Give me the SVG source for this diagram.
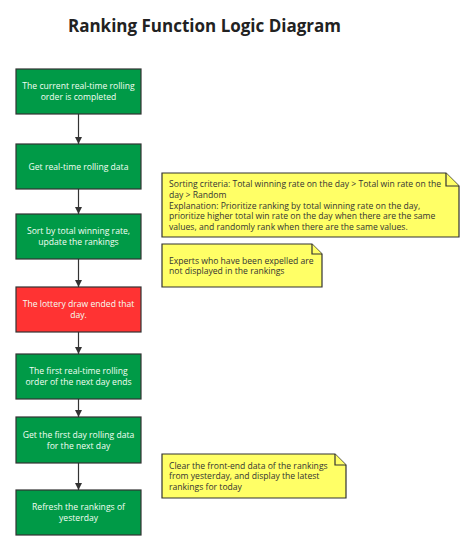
<svg xmlns="http://www.w3.org/2000/svg" width="474" height="551" viewBox="0 0 474 551">
<defs>
<marker id="arr" viewBox="0 0 10 10" refX="10" refY="5" markerWidth="7" markerHeight="7" orient="auto" markerUnits="userSpaceOnUse">
<path d="M0,0 L10,5 L0,10 z" fill="#333"/>
</marker>
<style>
.box{stroke:#333;stroke-width:1.2}
.g{fill:#009a47}
.r{fill:#ff3333}
.note{fill:#ffff66;stroke:#333;stroke-width:1.2}
.bt{font-family:"Open Sans","Noto Sans",sans-serif;font-size:8.6px;fill:#f4fff4;text-anchor:middle}
.nt{font-family:"Open Sans","Noto Sans",sans-serif;font-size:8.6px;fill:#333}
.title{font-family:"Open Sans","Noto Sans",sans-serif;font-size:17px;font-weight:bold;fill:#222}
.c{stroke:#333;stroke-width:1.2;fill:none;marker-end:url(#arr)}
</style>
</defs>
<rect width="474" height="551" fill="#fff"/>
<text class="title" x="204.5" y="32" text-anchor="middle">Ranking Function Logic Diagram</text>
<g id="connectors">
<line class="c" x1="78.5" y1="114" x2="78.5" y2="144"/>
<line class="c" x1="78.5" y1="189" x2="78.5" y2="214"/>
<line class="c" x1="78.5" y1="259" x2="78.5" y2="287"/>
<line class="c" x1="78.5" y1="332" x2="78.5" y2="354"/>
<line class="c" x1="78.5" y1="399" x2="78.5" y2="417"/>
<line class="c" x1="78.5" y1="463" x2="78.5" y2="490"/>
</g>
<g id="n1"><rect class="box g" x="16" y="69" width="125" height="45"/>
<text class="bt" x="78.5" y="89">The current real-time rolling</text>
<text class="bt" x="78.5" y="100">order is completed</text></g>
<g id="n2"><rect class="box g" x="16" y="144" width="125" height="45"/>
<text class="bt" x="78.5" y="169.5">Get real-time rolling data</text></g>
<g id="n3"><rect class="box g" x="16" y="214" width="125" height="45"/>
<text class="bt" x="78.5" y="234">Sort by total winning rate,</text>
<text class="bt" x="78.5" y="245">update the rankings</text></g>
<g id="n4"><rect class="box r" x="16" y="287" width="125" height="45"/>
<text class="bt" x="78.5" y="307">The lottery draw ended that</text>
<text class="bt" x="78.5" y="318">day.</text></g>
<g id="n5"><rect class="box g" x="16" y="354" width="125" height="45"/>
<text class="bt" x="78.5" y="374">The first real-time rolling</text>
<text class="bt" x="78.5" y="385">order of the next day ends</text></g>
<g id="n6"><rect class="box g" x="16" y="417" width="125" height="46"/>
<text class="bt" x="78.5" y="437.5">Get the first day rolling data</text>
<text class="bt" x="78.5" y="448.5">for the next day</text></g>
<g id="n7"><rect class="box g" x="16" y="490" width="125" height="45"/>
<text class="bt" x="78.5" y="510">Refresh the rankings of</text>
<text class="bt" x="78.5" y="521">yesterday</text></g>
<g id="note1"><path class="note" d="M162,173 H446 L459,186 V237 H162 Z"/>
<path class="note" d="M446,173 V186 H459" fill="none"/>
<text class="nt" x="169" y="187">Sorting criteria: Total winning rate on the day &gt; Total win rate on the</text>
<text class="nt" x="169" y="197.8">day &gt; Random</text>
<text class="nt" x="169" y="208.6">Explanation: Prioritize ranking by total winning rate on the day,</text>
<text class="nt" x="169" y="219.4">prioritize higher total win rate on the day when there are the same</text>
<text class="nt" x="169" y="230.2">values, and randomly rank when there are the same values.</text></g>
<g id="note2"><path class="note" d="M162,244 H312 L322,254 V287 H162 Z"/>
<path class="note" d="M312,244 V254 H322" fill="none"/>
<text class="nt" x="169" y="263.5">Experts who have been expelled are</text>
<text class="nt" x="169" y="274.3">not displayed in the rankings</text></g>
<g id="note3"><path class="note" d="M162,454 H335 L346,465 V498 H162 Z"/>
<path class="note" d="M335,454 V465 H346" fill="none"/>
<text class="nt" x="169" y="468.5">Clear the front-end data of the rankings</text>
<text class="nt" x="169" y="479.3">from yesterday, and display the latest</text>
<text class="nt" x="169" y="490.1">rankings for today</text></g>
</svg>
